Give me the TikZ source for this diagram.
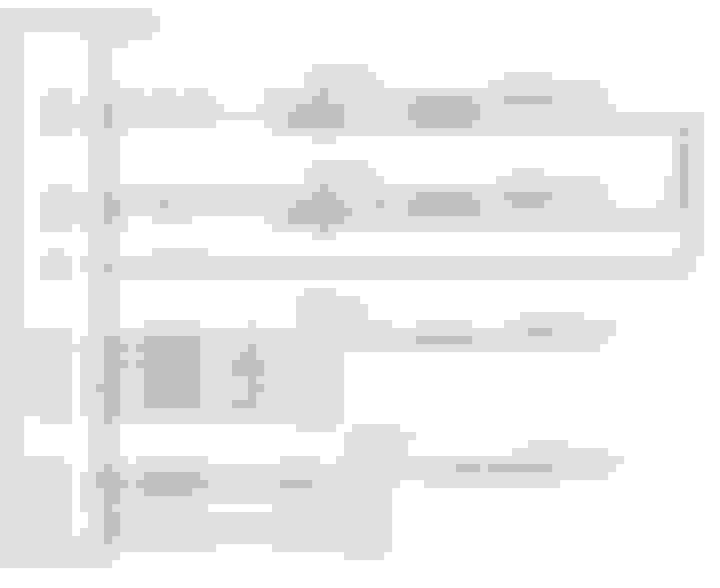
\documentclass[tikz,border=0pt]{standalone}
\definecolor{paleGray}{RGB}{224,224,224}
\definecolor{inkGray}{RGB}{192,192,192}
\begin{document}
\begin{tikzpicture}[x=1pt,y=-1pt,
				pale/.style={fill=paleGray},
				ink/.style={fill=inkGray}]
\useasboundingbox (0,0) rectangle (720,587);
% pale ground: y1/y2/x1/x2
\fill[pale] \foreach \ya/\yb/\xa/\xb in {
	8/568/0/24, 40/568/88/112, 80/560/112/120,
	8/16/0/152, 16/32/0/160, 32/40/80/152, 40/48/88/128,
	64/72/312/368, 72/80/304/376, 72/80/504/552, 80/88/304/384, 80/88/488/600,
	88/96/48/72, 88/96/88/144, 88/96/152/176, 88/96/184/208, 88/104/264/608,
	96/104/40/72, 96/104/80/216, 104/112/40/224, 104/112/256/616,
	112/120/40/704, 120/128/40/216, 120/128/264/704, 128/136/272/704,
	128/136/40/72, 128/136/80/128,
	136/144/312/336, 136/176/672/704,
	160/168/312/368, 168/176/304/376, 168/176/512/544,
	176/184/304/384, 176/184/496/600, 176/200/664/704,
	184/192/48/72, 184/192/88/608, 192/200/40/608,
	200/208/40/616, 200/208/656/704, 208/216/40/704,
	216/224/40/128, 216/224/152/192, 216/224/264/704,
	224/232/40/72, 224/232/80/128, 224/232/272/704,
	232/240/312/336, 232/248/680/704,
	248/256/48/64, 248/256/152/208, 248/256/672/704,
	256/280/40/72, 256/272/80/696, 272/280/88/688,
	288/296/304/336, 296/304/296/360, 304/320/296/368, 312/320/520/584,
	320/328/144/200, 320/328/248/256, 320/328/296/392, 320/328/416/472, 320/328/504/616,
	328/416/0/72, 328/336/88/616, 336/344/80/608, 344/352/0/600, 352/416/80/344,
	416/424/40/72, 416/424/88/344,
	424/432/296/336, 424/432/352/400, 432/440/344/416,
	440/456/344/408, 440/448/528/568, 448/456/512/608,
	456/464/0/64, 456/464/88/128, 456/464/136/208, 456/464/280/320, 456/464/336/624,
	464/544/0/72, 464/472/88/616, 472/480/80/608,
	480/488/80/400, 480/488/424/560, 488/504/80/392,
	504/512/80/208, 504/512/272/392, 512/528/88/392, 528/536/80/392,
	536/544/0/392, 544/552/0/216, 544/552/272/392,
	552/560/0/120, 552/560/344/384, 560/568/0/112}
	{(\xa,\ya) rectangle (\xb,\yb)};
% darker marks
\fill[ink] \foreach \ya/\yb/\xa/\xb in {
	88/96/320/328, 96/104/312/328, 104/112/296/344, 112/128/288/344,
	96/104/416/472, 104/120/408/480, 120/128/416/472, 96/104/504/552,
	104/128/104/112,
	128/136/680/688, 144/208/680/688,
	184/192/320/328, 192/200/312/336, 200/208/296/344, 208/216/288/352,
	216/224/288/344, 224/232/320/328,
	192/200/104/112, 200/216/104/120, 216/224/104/112,
	200/208/160/168, 200/208/376/384,
	192/200/416/472, 200/216/408/480, 192/200/504/552, 200/208/512/544,
	264/272/104/112,
	328/336/528/552, 336/344/416/472,
	336/416/104/120, 344/352/120/128, 360/368/120/128, 384/392/96/104, 416/424/104/112,
	336/408/144/200, 344/352/136/144, 360/368/136/144,
	344/352/248/256, 352/360/240/256, 360/376/232/264, 376/384/248/256,
	384/392/248/264, 392/400/248/256, 400/408/232/256,
	464/472/104/112, 472/480/96/120, 480/488/96/128, 488/504/104/120,
	504/512/104/112, 512/536/104/120, 536/544/104/112,
	472/480/144/200, 480/488/136/208, 488/496/144/192,
	480/488/280/312, 464/472/456/480, 464/472/488/552}
	{(\xa,\ya) rectangle (\xb,\yb)};
\end{tikzpicture}
\end{document}
